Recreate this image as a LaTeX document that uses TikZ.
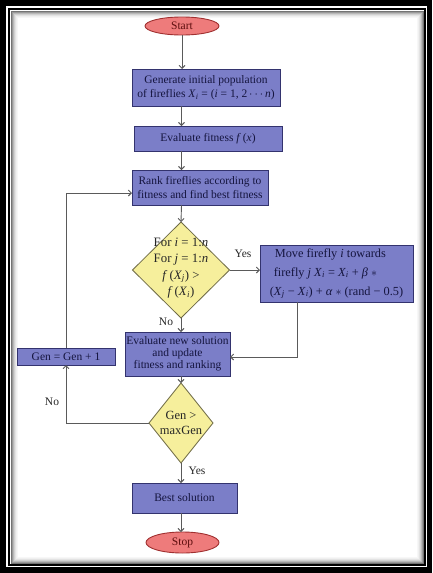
\documentclass[tikz,border=0pt]{standalone}
\usepackage{fontspec}
\setmainfont{Liberation Serif}
\usetikzlibrary{shapes.geometric,arrows.meta}
\definecolor{boxfill}{HTML}{7B7EC8}
\definecolor{boxdraw}{HTML}{33336E}
\definecolor{boxtext}{HTML}{15153F}
\definecolor{dfill}{HTML}{F6EF9C}
\definecolor{ddraw}{HTML}{6E6A45}
\definecolor{efill}{HTML}{EE7B7B}
\definecolor{edraw}{HTML}{A03030}
\definecolor{etext}{HTML}{5E0E0E}
\definecolor{linec}{HTML}{5A5A5A}
\newcommand{\mi}[1]{\textit{#1}}
\newcommand{\sbi}[1]{\textsubscript{\textit{#1}}}
\begin{document}
\begin{tikzpicture}[x=1pt,y=-1pt,
  every node/.style={inner sep=0pt, outer sep=0pt},
  procbox/.style={draw=boxdraw, line width=0.9pt, fill=boxfill, text=boxtext,
    align=center, font=\fontsize{11.5}{14}\selectfont},
  decbox/.style={draw=ddraw, line width=0.8pt, fill=dfill, diamond, shape aspect=1},
  dectext/.style={align=center, text=black!85, font=\fontsize{12.8}{16.5}\selectfont},
  termbox/.style={draw=edraw, line width=0.9pt, fill=efill, ellipse, text=etext,
    font=\fontsize{11.5}{14}\selectfont},
  conn/.style={draw=linec, line width=0.9pt, -{Straight Barb[length=3pt,width=6pt]}},
  lbl/.style={text=black!85, font=\fontsize{11.5}{14}\selectfont}]
% frame
\fill[black] (0,0) rectangle (432,573);
\fill[white] (6,6) rectangle (427,567);
\draw[black, line width=2pt] (9,9) rectangle (425,565);
\foreach \i/\c in {11/55,12/40,13/28,14/18,15/11,16/6,17/3}{
  \draw[black!\c, line width=1pt] (\i,\i) rectangle (434-\i,574-\i);
}
% nodes
\node[termbox, minimum width=74pt, minimum height=18pt] (start) at (182,26) {Start};
\node[procbox, minimum width=148pt, minimum height=37pt] (gen) at (206,87.5)
  {Generate initial population\\of fireflies \mi{X}\sbi{i} = (\mi{i} = 1, 2\,$\cdots$\,\mi{n})};
\node[procbox, minimum width=148pt, minimum height=25pt] (evalf) at (208,138.5)
  {Evaluate fitness \mi{f}\,(\mi{x})};
\node[procbox, minimum width=136pt, minimum height=35pt] (rank) at (200,187.5)
  {Rank fireflies according to\\fitness and find best fitness};
\node[decbox, minimum width=97pt, minimum height=96pt] (d1) at (181,270) {};
\node[dectext] (d1t) at (181,268)
  {For \mi{i} = 1:\mi{n}\\For \mi{j} = 1:\mi{n}\\\mi{f}\,(\mi{X}\sbi{j}) >\\\mi{f}\,(\mi{X}\sbi{i})};
\node[procbox, minimum width=153pt, minimum height=57pt, align=left,
  font=\fontsize{12.3}{19}\selectfont] (move) at (336.5,273.5)
  {\hspace{5pt}Move firefly \mi{i} towards\\\hspace{4pt}firefly \mi{j} \mi{X}\sbi{i} = \mi{X}\sbi{i} + \mi{β} $*$\\(\mi{X}\sbi{j} − \mi{X}\sbi{i}) + \mi{α} $*$ (rand − 0.5)};
\node[procbox, minimum width=105pt, minimum height=44pt,
  font=\fontsize{11.5}{12}\selectfont] (evaln) at (177.5,354)
  {Evaluate new solution\\and update\\fitness and ranking};
\node[procbox, minimum width=98pt, minimum height=17pt] (genp) at (66,356.5) {Gen = Gen + 1};
\node[decbox, minimum width=64pt, minimum height=80pt, shape aspect=0.8] (d2) at (181,423) {};
\node[dectext, font=\fontsize{12.5}{15}\selectfont] (d2t) at (d2.center) {Gen >\\maxGen};
\node[procbox, minimum width=105pt, minimum height=30pt] (best) at (184.5,498) {Best solution};
\node[termbox, minimum width=73pt, minimum height=21pt] (stop) at (182.5,542.5) {Stop};
% coordinates
\coordinate (col) at (181.5,0);
\coordinate (m1) at (297,357);
\coordinate (r1) at (66,193);
% connectors
\draw[conn] (start.south) -- (start.south |- gen.north);
\draw[conn] (col |- gen.south) -- (col |- evalf.north);
\draw[conn] (col |- evalf.south) -- (col |- rank.north);
\draw[conn] (col |- rank.south) -- (d1.north);
\draw[conn] (d1.east) -- (d1.east -| move.west);
\draw[conn] (d1.south) -- (d1.south |- evaln.north);
\draw[conn] (move.south -| m1) -- (m1) -- (m1 -| evaln.east);
\draw[conn] (d2.north |- evaln.south) -- (d2.north);
\draw[conn] (d2.south) -- (d2.south |- best.north);
\draw[conn] (d2.south |- best.south) -- (d2.south |- stop.north);
\draw[conn] (d2.west) -- (d2.west -| genp.south) -- (genp.south);
\draw[conn] (genp.north) -- (r1) -- (r1 -| rank.west);
% labels
\node[lbl] (lyes1) at (243,254) {Yes};
\node[lbl] (lno1) at (166,322) {No};
\node[lbl] (lno2) at (52,402) {No};
\node[lbl] (lyes2) at (197,471) {Yes};
\end{tikzpicture}
\end{document}
